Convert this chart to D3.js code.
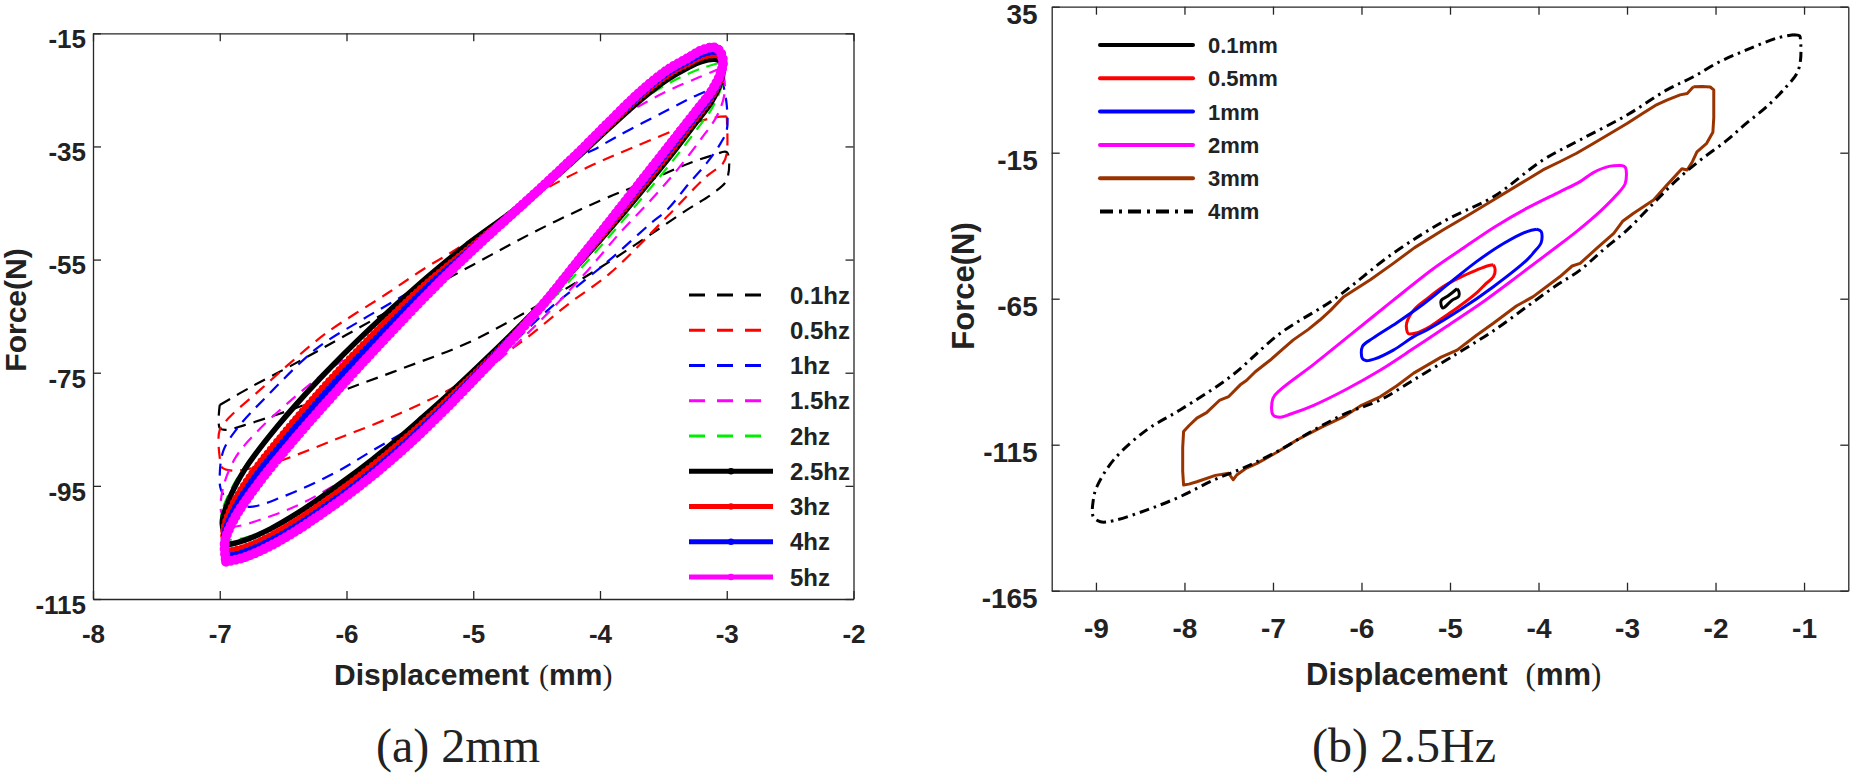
<!DOCTYPE html>
<html>
<head>
<meta charset="utf-8">
<script src="https://cdn.jsdelivr.net/npm/d3@7"></script>
<style>
  body { margin: 0; background: #fff; }
  svg text { font-family: "Liberation Sans", Arial, sans-serif; font-weight: bold; fill: #222; }
  .domain, .tick line { stroke: #262626; stroke-width: 1.3; }
</style>
</head>
<body>
<svg id="chart" width="1850" height="774"></svg>
<script>
// ---- data: panel (a) 2mm, loops per frequency [displacement mm, force N] ----
const hz01 = [[-7.0,-80.7],[-6.76,-77.6],[-6.4,-73.3],[-6.0,-68.3],[-5.5,-62.0],[-5.0,-55.9],[-4.5,-49.9],[-4.0,-44.6],[-3.63,-41.2],[-3.3,-38.0],[-3.1,-36.5],[-3.0,-36.0],[-3.0,-40.9],[-3.11,-43.3],[-3.32,-46.3],[-3.63,-51.0],[-3.9,-55.0],[-4.2,-59.2],[-4.6,-64.5],[-5.05,-69.8],[-5.53,-74.0],[-6.0,-77.9],[-6.42,-81.4],[-6.81,-84.3],[-6.95,-85.1],[-7.0,-84.8],[-7.0,-80.7]];
const hz05 = [[-3.0,-29.7],[-3.1,-29.9],[-3.29,-31.1],[-3.74,-35.2],[-4.09,-38.6],[-4.42,-42.4],[-4.76,-47.4],[-5.1,-52.7],[-5.4,-56.8],[-5.68,-61.0],[-6.16,-68.0],[-6.45,-73.4],[-6.68,-78.0],[-6.92,-82.8],[-7.0,-85.1],[-7.0,-90.0],[-6.98,-91.8],[-6.9,-92.3],[-6.8,-92.1],[-6.58,-91.0],[-6.1,-86.9],[-5.58,-82.2],[-5.1,-76.9],[-4.6,-69.2],[-4.24,-62.7],[-3.92,-57.4],[-3.47,-47.4],[-3.16,-40.3],[-3.03,-38.0],[-3.0,-36.3],[-3.0,-29.7]];
const hz1 = [[-3.03,-23.8],[-3.1,-24.6],[-3.26,-26.2],[-3.47,-28.6],[-3.87,-33.3],[-4.05,-35.6],[-4.18,-37.0],[-4.45,-42.0],[-4.71,-47.0],[-4.97,-51.8],[-5.3,-57.8],[-5.6,-62.0],[-5.89,-65.8],[-6.24,-70.8],[-6.63,-79.2],[-6.85,-84.5],[-6.97,-88.7],[-7.0,-93.0],[-6.99,-95.7],[-6.92,-97.8],[-6.76,-98.7],[-6.5,-96.9],[-6.1,-92.8],[-5.79,-88.7],[-5.47,-84.5],[-5.2,-80.4],[-5.0,-76.3],[-4.7,-70.0],[-4.4,-63.7],[-4.1,-58.3],[-3.9,-54.6],[-3.6,-48.6],[-3.47,-46.2],[-3.3,-41.6],[-3.16,-38.0],[-3.05,-34.5],[-3.0,-32.1],[-3.0,-27.7],[-3.03,-23.8]];
const hz15 = [[-3.05,-21.2],[-3.21,-22.7],[-3.42,-24.7],[-3.63,-27.1],[-3.9,-30.8],[-4.18,-36.4],[-4.45,-41.9],[-4.71,-47.1],[-4.97,-52.3],[-5.3,-59.0],[-5.6,-65.0],[-5.95,-71.5],[-6.2,-75.5],[-6.47,-80.5],[-6.7,-85.3],[-6.87,-89.8],[-6.97,-95.0],[-6.99,-99.5],[-6.94,-101.8],[-6.89,-102.2],[-6.63,-100.6],[-6.37,-98.3],[-6.1,-95.0],[-5.8,-91.2],[-5.5,-86.3],[-5.2,-80.9],[-5.0,-76.8],[-4.7,-70.8],[-4.4,-64.2],[-4.1,-57.0],[-3.84,-50.2],[-3.6,-44.5],[-3.4,-39.4],[-3.2,-33.6],[-3.08,-29.7],[-3.02,-26.0],[-3.02,-23.0],[-3.05,-21.2]];
const hz2 = [[-3.07,-20.3],[-3.2,-21.2],[-3.42,-23.4],[-3.68,-27.0],[-3.92,-31.8],[-4.18,-37.2],[-4.45,-42.5],[-4.73,-47.5],[-5.02,-52.3],[-5.4,-59.5],[-5.8,-67.2],[-6.18,-75.5],[-6.53,-84.0],[-6.79,-91.2],[-6.93,-96.5],[-6.99,-100.5],[-6.96,-104.2],[-6.85,-104.4],[-6.6,-102.5],[-6.4,-100.2],[-6.2,-97.4],[-6.0,-94.4],[-5.8,-91.2],[-5.6,-87.7],[-5.4,-83.9],[-5.2,-79.9],[-5.0,-75.8],[-4.8,-71.6],[-4.6,-67.2],[-4.4,-62.6],[-4.2,-57.8],[-4.0,-52.8],[-3.8,-47.6],[-3.6,-42.3],[-3.4,-36.8],[-3.25,-32.4],[-3.12,-28.4],[-3.05,-25.0],[-3.02,-22.2],[-3.07,-20.3]];
const hz25 = [[-6.93,-105.4],[-6.8,-104.6],[-6.6,-102.6],[-6.4,-100.0],[-6.2,-97.0],[-6.0,-93.8],[-5.8,-90.4],[-5.6,-86.8],[-5.4,-82.9],[-5.2,-78.9],[-5.0,-74.7],[-4.8,-70.4],[-4.6,-66.0],[-4.4,-61.4],[-4.2,-56.6],[-4.0,-51.6],[-3.8,-46.4],[-3.6,-41.0],[-3.4,-35.4],[-3.25,-31.0],[-3.12,-27.1],[-3.05,-23.8],[-3.03,-21.0],[-3.06,-19.8],[-3.1,-19.6],[-3.2,-20.0],[-3.3,-21.0],[-3.47,-23.2],[-3.68,-26.8],[-3.92,-31.6],[-4.18,-37.0],[-4.45,-42.3],[-4.74,-47.3],[-5.04,-52.2],[-5.43,-59.4],[-5.82,-67.3],[-6.2,-75.8],[-6.55,-84.6],[-6.8,-92.0],[-6.93,-97.6],[-6.98,-101.6],[-6.93,-105.4]];
const hz3 = [[-6.94,-106.6],[-6.8,-105.8],[-6.6,-103.8],[-6.4,-101.2],[-6.2,-98.2],[-6.0,-95.0],[-5.8,-91.5],[-5.6,-87.8],[-5.4,-83.9],[-5.2,-79.7],[-5.0,-75.4],[-4.8,-71.0],[-4.6,-66.4],[-4.4,-61.5],[-4.2,-56.4],[-4.0,-51.1],[-3.8,-45.7],[-3.6,-40.2],[-3.4,-34.6],[-3.25,-30.2],[-3.12,-26.3],[-3.05,-23.1],[-3.03,-20.4],[-3.06,-19.0],[-3.1,-18.8],[-3.2,-19.2],[-3.3,-20.3],[-3.47,-22.4],[-3.68,-26.1],[-3.92,-31.1],[-4.18,-36.7],[-4.45,-42.2],[-4.72,-47.3],[-5.0,-52.4],[-5.4,-59.8],[-5.78,-68.0],[-6.15,-76.7],[-6.5,-85.8],[-6.77,-93.5],[-6.92,-99.3],[-6.97,-103.3],[-6.94,-106.6]];
const hz4 = [[-6.94,-107.6],[-6.8,-106.8],[-6.6,-104.8],[-6.4,-102.3],[-6.2,-99.3],[-6.0,-96.1],[-5.8,-92.6],[-5.6,-88.8],[-5.4,-84.7],[-5.2,-80.4],[-5.0,-75.9],[-4.8,-71.3],[-4.6,-66.6],[-4.4,-61.6],[-4.2,-56.2],[-4.0,-50.7],[-3.8,-45.1],[-3.6,-39.5],[-3.4,-33.9],[-3.25,-29.6],[-3.12,-25.8],[-3.05,-22.6],[-3.03,-20.0],[-3.06,-18.4],[-3.1,-18.1],[-3.2,-18.6],[-3.3,-19.8],[-3.47,-21.9],[-3.68,-25.7],[-3.92,-30.8],[-4.18,-36.5],[-4.45,-42.1],[-4.71,-47.3],[-4.98,-52.5],[-5.36,-60.0],[-5.73,-68.3],[-6.1,-77.1],[-6.46,-86.4],[-6.74,-94.2],[-6.9,-100.1],[-6.96,-104.1],[-6.94,-107.6]];
const hz5 = [[-6.95,-108.4],[-6.8,-107.6],[-6.6,-105.6],[-6.4,-103.0],[-6.2,-100.0],[-6.0,-96.8],[-5.8,-93.3],[-5.6,-89.5],[-5.4,-85.4],[-5.2,-81.0],[-5.0,-76.4],[-4.8,-71.7],[-4.6,-66.8],[-4.4,-61.6],[-4.2,-56.0],[-4.0,-50.4],[-3.8,-44.7],[-3.6,-39.0],[-3.4,-33.3],[-3.25,-29.0],[-3.12,-25.2],[-3.05,-22.2],[-3.03,-19.8],[-3.06,-18.0],[-3.1,-17.5],[-3.2,-18.0],[-3.3,-19.3],[-3.47,-21.5],[-3.68,-25.3],[-3.92,-30.5],[-4.18,-36.3],[-4.45,-42.0],[-4.71,-47.3],[-4.97,-52.6],[-5.32,-60.2],[-5.68,-68.6],[-6.05,-77.6],[-6.42,-87.0],[-6.71,-95.0],[-6.89,-101.0],[-6.96,-105.0],[-6.95,-108.4]];
const freqLabels = ["0.1hz", "0.5hz", "1hz", "1.5hz", "2hz", "2.5hz", "3hz", "4hz", "5hz"];

// ---- data: panel (b) 2.5Hz, loops per amplitude ----
const mm01 = [[-4.92,-61.6],[-4.9,-62.5],[-4.9,-64.2],[-4.98,-65.6],[-5.08,-68.2],[-5.1,-67.2],[-5.1,-65.6],[-5.02,-64.0],[-4.92,-61.6]];
const mm05 = [[-4.51,-53.4],[-4.49,-55.0],[-4.51,-57.5],[-4.6,-60.0],[-4.70,-63.0],[-4.89,-67.5],[-5.08,-71.5],[-5.23,-74.6],[-5.38,-76.7],[-5.47,-77.0],[-5.49,-75.5],[-5.49,-73.4],[-5.41,-68.9],[-5.25,-64.8],[-5.08,-60.9],[-4.88,-57.6],[-4.70,-55.2],[-4.58,-53.8],[-4.51,-53.4]];
const mm1 = [[-4.02,-41.2],[-3.97,-42.0],[-3.97,-45.8],[-4.05,-49.0],[-4.13,-51.7],[-4.51,-60.9],[-4.89,-68.9],[-5.26,-75.7],[-5.41,-78.0],[-5.64,-82.6],[-5.85,-85.6],[-5.95,-86.2],[-5.99,-85.5],[-5.99,-81.4],[-5.87,-78.5],[-5.6,-73.2],[-5.3,-66.8],[-5.0,-59.5],[-4.7,-52.3],[-4.4,-46.2],[-4.13,-42.0],[-4.02,-41.2]];
const mm2 = [[-3.06,-19.4],[-3.02,-20.0],[-3.02,-25.5],[-3.12,-29.5],[-3.3,-35.0],[-3.55,-41.5],[-3.85,-48.5],[-4.2,-56.5],[-4.6,-65.5],[-5.04,-74.5],[-5.41,-82.0],[-5.79,-89.5],[-6.17,-96.0],[-6.54,-101.5],[-6.8,-104.5],[-6.92,-105.6],[-7.0,-104.8],[-7.0,-99.1],[-6.92,-96.3],[-6.54,-87.5],[-6.13,-77.5],[-5.64,-65.5],[-5.2,-55.0],[-4.89,-48.5],[-4.5,-40.5],[-4.13,-34.0],[-3.76,-28.4],[-3.53,-24.9],[-3.38,-21.8],[-3.19,-19.6],[-3.06,-19.4]];
const mm3 = [[-2.25,7.6],[-2.15,7.7],[-2.06,7.5],[-2.02,6.5],[-2.02,2.0],[-2.02,-3.0],[-2.03,-8.0],[-2.10,-11.8],[-2.21,-14.7],[-2.26,-18.0],[-2.32,-20.9],[-2.38,-20.5],[-2.55,-26.1],[-2.70,-31.2],[-2.93,-35.8],[-3.05,-38.5],[-3.15,-42.6],[-3.34,-47.7],[-3.53,-52.9],[-3.62,-53.8],[-3.76,-57.5],[-4.06,-64.3],[-4.25,-67.5],[-4.51,-73.4],[-4.7,-77.5],[-4.92,-82.6],[-5.1,-85.0],[-5.41,-90.5],[-5.6,-94.8],[-5.79,-98.6],[-6.0,-101.5],[-6.20,-105.4],[-6.45,-109.0],[-6.73,-113.4],[-6.95,-117.5],[-7.18,-121.4],[-7.3,-123.0],[-7.41,-125.4],[-7.45,-127.0],[-7.5,-124.8],[-7.65,-125.5],[-7.86,-127.7],[-7.95,-128.5],[-8.01,-128.8],[-8.02,-124.0],[-8.02,-116.0],[-8.01,-110.5],[-7.95,-108.5],[-7.86,-105.9],[-7.75,-104.0],[-7.60,-99.7],[-7.5,-98.5],[-7.37,-94.5],[-7.30,-93.0],[-7.2,-90.0],[-7.03,-86.0],[-6.9,-82.5],[-6.77,-79.1],[-6.6,-75.5],[-6.47,-72.3],[-6.35,-69.0],[-6.20,-64.3],[-5.9,-58.5],[-5.64,-52.9],[-5.4,-47.5],[-5.08,-41.5],[-4.8,-36.5],[-4.51,-31.2],[-4.2,-25.5],[-3.95,-20.9],[-3.76,-18.1],[-3.57,-15.2],[-3.4,-12.2],[-3.19,-8.4],[-3.0,-5.0],[-2.82,-1.5],[-2.68,1.2],[-2.55,3.0],[-2.4,4.8],[-2.32,5.3],[-2.25,7.6]];
const mm4 = [[-1.12,25.4],[-1.05,25.0],[-1.04,23.5],[-1.04,16.7],[-1.08,12.2],[-1.20,7.6],[-1.42,0.8],[-1.65,-4.9],[-1.87,-10.7],[-2.17,-17.5],[-2.44,-24.4],[-2.70,-32.3],[-3.0,-41.5],[-3.27,-48.3],[-3.53,-55.2],[-3.8,-60.5],[-4.13,-67.7],[-4.5,-75.8],[-4.85,-82.5],[-5.04,-86.0],[-5.41,-92.8],[-5.79,-99.7],[-6.17,-104.2],[-6.54,-110.0],[-6.92,-116.8],[-7.30,-122.5],[-7.67,-127.1],[-8.05,-132.8],[-8.43,-137.4],[-8.80,-141.0],[-8.95,-141.4],[-9.03,-139.7],[-9.03,-133.9],[-8.99,-129.4],[-8.80,-120.2],[-8.43,-110.0],[-8.05,-103.1],[-7.48,-91.7],[-6.92,-76.9],[-6.32,-65.4],[-5.64,-49.4],[-5.04,-38.0],[-4.51,-30.1],[-3.95,-17.5],[-3.53,-10.6],[-3.0,-2.1],[-2.55,6.5],[-2.25,11.0],[-1.95,16.2],[-1.65,20.2],[-1.31,24.2],[-1.12,25.4]];
const ampLabels = ["0.1mm", "0.5mm", "1mm", "2mm", "3mm", "4mm"];

// ---- ticks ----
const leftXTicks = [-8, -7, -6, -5, -4, -3, -2];
const leftYTicks = [-115, -95, -75, -55, -35, -15];
const rightXTicks = [-9, -8, -7, -6, -5, -4, -3, -2, -1];
const rightYTicks = [-165, -115, -65, -15, 35];

// ---- styles ----
const leftStyles = [
  { color: "#000000", dash: "12,8", width: 2.2 },
  { color: "#ff0000", dash: "12,8", width: 2.2 },
  { color: "#0000ff", dash: "12,8", width: 2.2 },
  { color: "#ff00ff", dash: "12,8", width: 2.2 },
  { color: "#00ee00", dash: "12,8", width: 2.2 },
  { color: "#000000", width: 5.5 },
  { color: "#ff0000", width: 5.5, bead: 7 },
  { color: "#0000ff", width: 5.5, bead: 8 },
  { color: "#ff00ff", width: 6, bead: 10 },
];
const rightStyles = [
  { color: "#000000", width: 3 },
  { color: "#ff0000", width: 3 },
  { color: "#0000ff", width: 3 },
  { color: "#ff00ff", width: 3 },
  { color: "#993300", width: 3, jagged: true },
  { color: "#000000", width: 3, dash: "10,5,2.5,5" },
];

const svg = d3.select("#chart");
svg.append("rect").attr("width", 1850).attr("height", 774).attr("fill", "#fff");

function frame(x, y, o) {
  const g = svg.append("g");
  const [y0, y1] = y.range();
  const [x0, x1] = x.range();
  const fmt = d => String(d);
  g.append("g").attr("transform", `translate(0,${y0})`)
    .call(d3.axisBottom(x).tickValues(o.xTicks).tickSize(-8).tickSizeOuter(0).tickPadding(o.xPad).tickFormat(fmt))
    .call(a => a.selectAll("text").attr("font-size", o.tickFont).attr("fill", "#222"));
  g.append("g").attr("transform", `translate(0,${y1})`)
    .call(d3.axisTop(x).tickValues(o.xTicks).tickSize(-8).tickSizeOuter(0).tickFormat(""))
    .call(a => a.selectAll("text").remove());
  g.append("g").attr("transform", `translate(${x0},0)`)
    .call(d3.axisLeft(y).tickValues(o.yTicks).tickSize(-8).tickSizeOuter(0).tickPadding(o.yPad).tickFormat(fmt))
    .call(a => a.selectAll("text").attr("font-size", o.tickFont).attr("dy", o.yDy).attr("fill", "#222"));
  g.append("g").attr("transform", `translate(${x1},0)`)
    .call(d3.axisRight(y).tickValues(o.yTicks).tickSize(-8).tickSizeOuter(0).tickFormat(""))
    .call(a => a.selectAll("text").remove());
  g.selectAll("text").attr("font-family", null);

  // y label
  svg.append("text")
    .attr("transform", `translate(${o.yLabelX},${o.yLabelY}) rotate(-90)`)
    .attr("text-anchor", "middle").attr("font-size", o.labelFont)
    .text("Force(N)");
  // x label: sans bold with LaTeX-like parentheses
  const xl = svg.append("text").attr("x", o.xLabelX).attr("y", 685).attr("font-size", o.labelFont);
  xl.append("tspan").text("Displacement");
  xl.append("tspan").attr("dx", o.xLabelGap).style("font-family", "'Liberation Serif', serif").style("font-weight", "normal").text("(");
  xl.append("tspan").text("mm");
  xl.append("tspan").style("font-family", "'Liberation Serif', serif").style("font-weight", "normal").text(")");
  // caption
  svg.append("text").attr("x", o.capX).attr("y", 762).attr("text-anchor", "middle")
    .style("font-family", "'Liberation Serif', serif").style("font-weight", "normal")
    .attr("font-size", 48).text(o.caption);
}

// ---------------- panel (a) ----------------
const xa = d3.scaleLinear().domain([-8, -2]).range([93, 853.5]);
const ya = d3.scaleLinear().domain([-115, -15]).range([599, 33.3]);
const lineA = d3.line().x(d => xa(d[0])).y(d => ya(d[1])).curve(d3.curveCatmullRom.alpha(0.5));
const leftSeries = [hz01, hz05, hz1, hz15, hz2, hz25, hz3, hz4, hz5];

const pa = svg.append("g").attr("fill", "none").attr("stroke-linejoin", "round");
leftSeries.forEach((s, i) => {
  const st = leftStyles[i];
  pa.append("path").attr("d", lineA(s))
    .attr("stroke", st.color).attr("stroke-width", st.width)
    .attr("stroke-dasharray", st.dash || null);
  if (st.bead) {
    pa.append("path").attr("d", lineA(s))
      .attr("stroke", st.color).attr("stroke-width", st.bead)
      .attr("stroke-linecap", "round").attr("stroke-dasharray", "0,5");
  }
});

frame(xa, ya, {
  xTicks: leftXTicks, yTicks: leftYTicks, tickFont: 26, xPad: 26, yPad: 7, yDy: "0.55em",
  labelFont: 30, yLabelX: 26, yLabelY: 310, xLabelX: 334, xLabelGap: 10,
  capX: 458, caption: "(a) 2mm"
});

// legend (a)
const lga = svg.append("g");
freqLabels.forEach((lab, i) => {
  const st = leftStyles[i];
  const yy = 295 + i * 35.25;
  lga.append("line").attr("x1", 689).attr("x2", 773).attr("y1", yy).attr("y2", yy)
    .attr("stroke", st.color)
    .attr("stroke-width", st.dash ? 3.2 : 4.8)
    .attr("stroke-dasharray", st.dash ? "16,12" : null);
  if (!st.dash) lga.append("circle").attr("cx", 731).attr("cy", yy).attr("r", 3.2).attr("fill", st.color);
  lga.append("text").attr("x", 790).attr("y", yy).attr("dy", "0.36em").attr("font-size", 24).text(lab);
});

// ---------------- panel (b) ----------------
const xb = d3.scaleLinear().domain([-9.5, -0.5]).range([1051.7, 1848.3]);
const yb = d3.scaleLinear().domain([-165, 35]).range([590.7, 6.7]);
const lineB = d3.line().x(d => xb(d[0])).y(d => yb(d[1])).curve(d3.curveCatmullRom.alpha(0.5));
const lineBj = d3.line().x(d => xb(d[0])).y(d => yb(d[1]));
const rightSeries = [mm01, mm05, mm1, mm2, mm3, mm4];

const pb = svg.append("g").attr("fill", "none").attr("stroke-linejoin", "round");
rightSeries.forEach((s, i) => {
  const st = rightStyles[i];
  pb.append("path").attr("d", st.jagged ? lineBj(s) : lineB(s))
    .attr("stroke", st.color).attr("stroke-width", st.width)
    .attr("stroke-dasharray", st.dash || null);
});

frame(xb, yb, {
  xTicks: rightXTicks, yTicks: rightYTicks, tickFont: 28, xPad: 27, yPad: 14, yDy: "0.6em",
  labelFont: 31, yLabelX: 974, yLabelY: 286, xLabelX: 1306, xLabelGap: 18,
  capX: 1404, caption: "(b) 2.5Hz"
});

// legend (b)
const lgb = svg.append("g");
ampLabels.forEach((lab, i) => {
  const st = rightStyles[i];
  const yy = 45 + i * 33.3;
  lgb.append("line").attr("x1", 1100).attr("x2", 1193).attr("y1", yy).attr("y2", yy)
    .attr("stroke", st.color).attr("stroke-width", 4).attr("stroke-linecap", st.dash ? "butt" : "round")
    .attr("stroke-dasharray", st.dash ? "13,6,3,6" : null);
  lgb.append("text").attr("x", 1208).attr("y", yy).attr("dy", "0.36em").attr("font-size", 22).text(lab);
});
</script>
</body>
</html>
